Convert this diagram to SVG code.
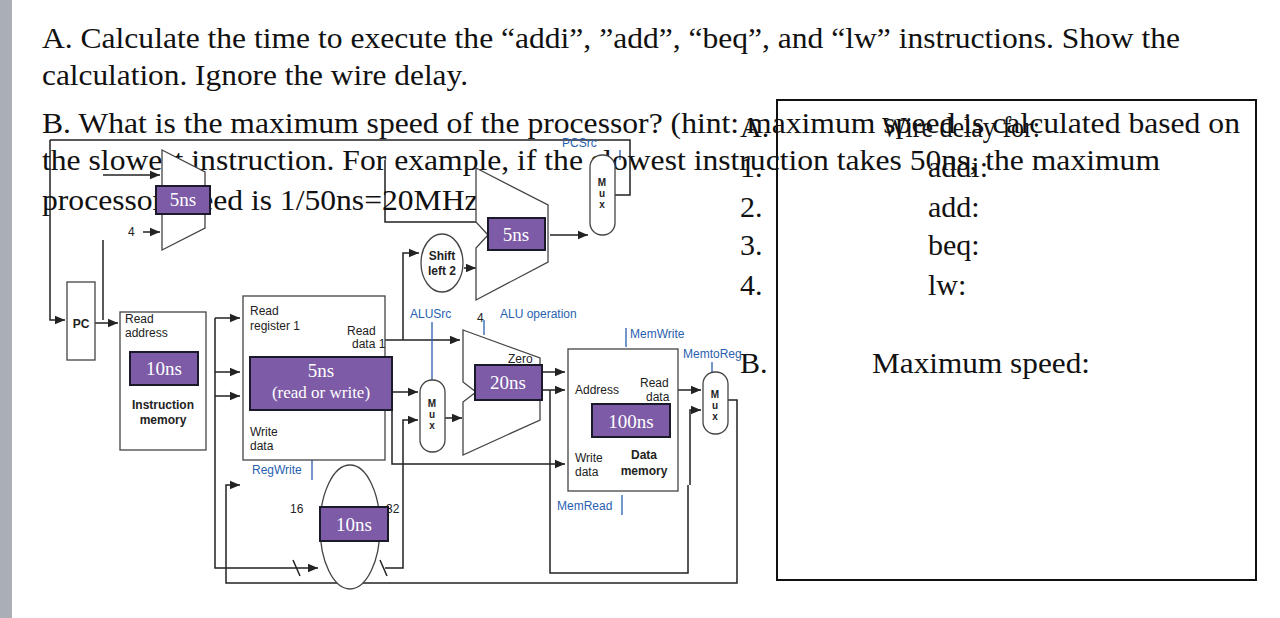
<svg xmlns="http://www.w3.org/2000/svg" width="1280" height="618" viewBox="0 0 1280 618">
<style>
.q{font-family:"Liberation Serif",serif;font-size:30px;fill:#111}
.s{font-family:"Liberation Sans",Arial,sans-serif;font-size:12px;fill:#222}
.b{font-weight:bold}
.bl{fill:#2a5fb0}
.w{fill:none;stroke:#222;stroke-width:1.5}
.c{fill:none;stroke:#2a5fb0;stroke-width:1.3}
.u{fill:#fff;stroke:#444;stroke-width:1.3}
.p{fill:#7d5ba6;stroke:#1a1a2a;stroke-width:2}
.pt{font-family:"Liberation Serif",serif;font-size:19px;fill:#fff;text-anchor:middle}
</style>
<defs><marker id="a" markerWidth="8" markerHeight="8" refX="7" refY="4" orient="auto"><path d="M0,1 L7,4 L0,7z" fill="#222"/></marker></defs>
<rect width="1280" height="618" fill="#fff"/>
<rect x="0" y="0" width="12" height="618" fill="#a9afb5"/>
<g id="wires">
<path class="w" d="M50,140 H630 V195 H612"/>
<path class="w" d="M50,140 V320 H65" marker-end="url(#a)"/>
<path class="w" d="M385,160 V222 H476"/>
<path class="w" d="M103,240 V320"/>
<path class="w" d="M95,323 H118" marker-end="url(#a)"/>
<path class="w" d="M103,175 H160" marker-end="url(#a)"/>
<path class="w" d="M143,232 H160" marker-end="url(#a)"/>
<path class="w" d="M550,235 H588" marker-end="url(#a)"/>
<path class="w" d="M464,268 H476" marker-end="url(#a)"/>
<path class="w" d="M403,340 V253 H419" marker-end="url(#a)"/>
<path class="w" d="M215,318 V568 H318" marker-end="url(#a)"/>
<path class="w" d="M215,318 H240" marker-end="url(#a)"/>
<path class="w" d="M215,372 H240" marker-end="url(#a)"/>
<path class="w" d="M215,396 H240" marker-end="url(#a)"/>
<path class="w" d="M385,340 H460" marker-end="url(#a)"/>
<path class="w" d="M392,392 H418" marker-end="url(#a)"/>
<path class="w" d="M392,392 V464 H565" marker-end="url(#a)"/>
<path class="w" d="M385,568 H403 V420 H418" marker-end="url(#a)"/>
<path class="w" d="M445,418 H462" marker-end="url(#a)"/>
<path class="w" d="M540,372 H565" marker-end="url(#a)"/>
<path class="w" d="M540,390 H565" marker-end="url(#a)"/>
<path class="w" d="M550,390 V573 H688 V485"/>
<path class="w" d="M678,390 H701" marker-end="url(#a)"/>
<path class="w" d="M690,485 V410 H701" marker-end="url(#a)"/>
<path class="w" d="M728,400 H737 V583 H226 V485 H240" marker-end="url(#a)"/>
<path class="c" d="M432,322 V380 M484,320 V335 M626,328 V347 M712,362 V372 M620,150 V160 M622,495 V515 M312,460 V480"/>
<path class="w" d="M293,560 L300,576 M380,560 L387,576"/>
</g>
<g id="text">
<text class="q" x="42" y="48" textLength="1138" lengthAdjust="spacingAndGlyphs">A. Calculate the time to execute the “addi”, ”add”, “beq”, and “lw” instructions. Show the</text>
<text class="q" x="42" y="85" textLength="426" lengthAdjust="spacingAndGlyphs">calculation. Ignore the wire delay.</text>
<text class="q" x="42" y="133" textLength="1198" lengthAdjust="spacingAndGlyphs">B. What is the maximum speed of the processor? (hint: maximum speed is calculated based on</text>
<text class="q" x="42" y="170" textLength="1118" lengthAdjust="spacingAndGlyphs">the slowest instruction. For example, if the slowest instruction takes 50ns, the maximum</text>
<text class="q" x="42" y="210" textLength="455" lengthAdjust="spacingAndGlyphs">processor speed is 1/50ns=20MHz).</text>
</g>
<g id="answerbox">
<rect x="777" y="100" width="479" height="480" fill="none" stroke="#111" stroke-width="2"/>
<text class="q" x="740" y="137">A.</text><text class="q" x="882" y="137" textLength="158" lengthAdjust="spacingAndGlyphs">Wire delay for:</text>
<text class="q" x="740" y="177">1.</text><text class="q" x="928" y="177">addi:</text>
<text class="q" x="740" y="217">2.</text><text class="q" x="928" y="217">add:</text>
<text class="q" x="740" y="255">3.</text><text class="q" x="928" y="255">beq:</text>
<text class="q" x="740" y="295">4.</text><text class="q" x="928" y="295">lw:</text>
<text class="q" x="740" y="373">B.</text><text class="q" x="872" y="373" textLength="218" lengthAdjust="spacingAndGlyphs">Maximum speed:</text>
</g>
<g id="pcadder">
<path class="u" d="M162,150 L205,172 V228 L162,250 V205 L172,200 L162,195 Z"/>
<text class="s" x="128" y="236">4</text>
<rect class="p" x="156" y="186" width="54" height="28"/><text class="pt" x="183" y="206">5ns</text>
</g>
<g id="pc"><rect class="u" x="67" y="282" width="28" height="78"/><text class="s b" x="81" y="328" text-anchor="middle">PC</text></g>
<g id="imem">
<rect class="u" x="120" y="312" width="86" height="138"/>
<text class="s" x="125" y="323">Read</text><text class="s" x="125" y="337">address</text>
<rect class="p" x="130" y="352" width="68" height="33"/><text class="pt" x="164" y="375">10ns</text>
<text class="s b" x="163" y="409" text-anchor="middle">Instruction</text><text class="s b" x="163" y="424" text-anchor="middle">memory</text>
</g>
<g id="regfile">
<rect class="u" x="243" y="296" width="142" height="164"/>
<text class="s" x="250" y="315">Read</text><text class="s" x="250" y="330">register 1</text>
<text class="s" x="347" y="335">Read</text><text class="s" x="352" y="348">data 1</text>
<rect class="p" x="250" y="357" width="142" height="53"/>
<text class="pt" x="321" y="377">5ns</text><text class="pt" x="321" y="398" style="font-size:17px">(read or write)</text>
<text class="s" x="250" y="436">Write</text><text class="s" x="250" y="450">data</text>
<text class="s bl" x="252" y="474">RegWrite</text>
</g>
<g id="signext">
<ellipse class="u" cx="350" cy="527" rx="30" ry="62"/>
<text class="s" x="290" y="513">16</text><text class="s" x="386" y="513">32</text>
<rect class="p" x="320" y="507" width="68" height="34"/><text class="pt" x="354" y="531">10ns</text>
</g>
<g id="shift"><ellipse class="u" cx="442" cy="263" rx="21" ry="29"/><text class="s b" x="442" y="260" text-anchor="middle">Shift</text><text class="s b" x="442" y="275" text-anchor="middle">left 2</text></g>
<g id="branchadder">
<path class="u" d="M476,168 L548,205 V262 L476,300 V248 L488,235 L476,222 Z"/>
<rect class="p" x="488" y="218" width="57" height="32"/><text class="pt" x="516" y="241">5ns</text>
</g>
<g id="pcmux"><rect class="u" x="590" y="155" width="25" height="80" rx="12"/><text class="s b" x="602" y="186" text-anchor="middle" style="font-size:10px">M</text><text class="s b" x="602" y="197" text-anchor="middle" style="font-size:10px">u</text><text class="s b" x="602" y="208" text-anchor="middle" style="font-size:10px">x</text><text class="s bl" x="562" y="147">PCSrc</text></g>
<g id="alu">
<path class="u" d="M463,330 L540,358 V420 L463,455 V402 L476,392 L463,382 Z"/>
<text class="s" x="508" y="363">Zero</text>
<text class="s bl" x="410" y="318">ALUSrc</text><text class="s" x="477" y="322">4</text><text class="s bl" x="500" y="318">ALU operation</text>
<rect class="p" x="475" y="365" width="67" height="35"/><text class="pt" x="508" y="389">20ns</text>
</g>
<g id="alumux"><rect class="u" x="420" y="380" width="25" height="72" rx="12"/><text class="s b" x="432" y="407" text-anchor="middle" style="font-size:10px">M</text><text class="s b" x="432" y="418" text-anchor="middle" style="font-size:10px">u</text><text class="s b" x="432" y="429" text-anchor="middle" style="font-size:10px">x</text></g>
<g id="dmem">
<rect class="u" x="568" y="349" width="110" height="142"/>
<text class="s bl" x="630" y="338">MemWrite</text><text class="s bl" x="683" y="358">MemtoReg</text><text class="s bl" x="557" y="510">MemRead</text>
<text class="s" x="575" y="394">Address</text><text class="s" x="640" y="387">Read</text><text class="s" x="646" y="401">data</text>
<rect class="p" x="592" y="404" width="78" height="33"/><text class="pt" x="631" y="428">100ns</text>
<text class="s" x="575" y="462">Write</text><text class="s" x="575" y="476">data</text>
<text class="s b" x="644" y="459" text-anchor="middle">Data</text><text class="s b" x="644" y="475" text-anchor="middle">memory</text>
</g>
<g id="wbmux"><rect class="u" x="703" y="372" width="25" height="62" rx="12"/><text class="s b" x="715" y="398" text-anchor="middle" style="font-size:10px">M</text><text class="s b" x="715" y="409" text-anchor="middle" style="font-size:10px">u</text><text class="s b" x="715" y="420" text-anchor="middle" style="font-size:10px">x</text></g>
</svg>
